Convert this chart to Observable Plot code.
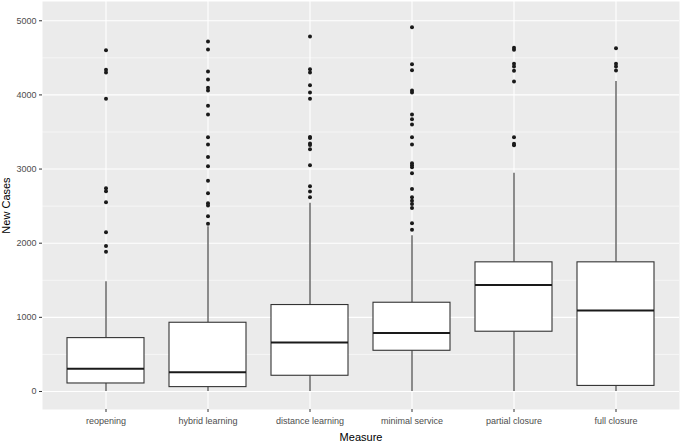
<!DOCTYPE html>
<html>
<head>
<meta charset="utf-8">
<script src="https://cdn.jsdelivr.net/npm/d3@7"></script>
<script src="https://cdn.jsdelivr.net/npm/@observablehq/plot@0.6"></script>
<style>
  body { margin: 0; background: #fff; }
  svg { display: block; }
</style>
</head>
<body>
<div id="chart"></div>
<script>
const categories = ["reopening", "hybrid learning", "distance learning", "minimal service", "partial closure", "full closure"];
const whiskerLow  = [0, 0, 0, 0, 0, 0];
const q1          = [108, 59, 212, 549, 806, 75];
const median      = [306, 261, 662, 788, 1436, 1093];
const q3          = [720, 927, 1166, 1197, 1742, 1742];
const whiskerHigh = [1481, 2223, 2538, 2102, 2943, 4181];
const outliers = [
  [4603, 4338, 4302, 3947, 2741, 2700, 2551, 2147, 1963, 1886],
  [4721, 4613, 4316, 4208, 4096, 4059, 3853, 3735, 3429, 3330, 3164, 3038, 2844, 2673, 2538, 2507, 2363, 2264],
  [4788, 4347, 4302, 4131, 4032, 3947, 3434, 3420, 3344, 3326, 3267, 3051, 2767, 2696, 2619],
  [4914, 4414, 4333, 4059, 4032, 3735, 3672, 3600, 3429, 3330, 3078, 3051, 3024, 2943, 2732, 2619, 2574, 2529, 2476, 2268, 2183],
  [4635, 4608, 4420, 4383, 4325, 4181, 3429, 3340, 3321],
  [4630, 4420, 4383, 4329]
];
const yTicks = [0, 1000, 2000, 3000, 4000, 5000];
const yMinor = [500, 1500, 2500, 3500, 4500];

const boxes = categories.map((c, i) => ({
  measure: c, lo: whiskerLow[i], q1: q1[i], med: median[i], q3: q3[i], hi: whiskerHigh[i]
}));
const points = categories.flatMap((c, i) => outliers[i].map(v => ({measure: c, value: v})));

const ink = "#333333";
const chart = Plot.plot({
  width: 685,
  height: 441,
  marginLeft: 42,
  marginRight: 6,
  marginTop: 1,
  marginBottom: 32,
  style: {fontFamily: "'Liberation Sans', Arial, sans-serif", background: "#fff"},
  x: {type: "band", domain: categories, paddingInner: 0.25, paddingOuter: 0.225},
  y: {domain: [-243, 5260]},
  marks: [
    Plot.frame({fill: "#EBEBEB", stroke: null}),
    Plot.gridY(yMinor, {stroke: "#fff", strokeOpacity: 1, strokeWidth: 0.55}),
    Plot.gridY(yTicks, {stroke: "#fff", strokeOpacity: 1, strokeWidth: 1.1}),
    Plot.gridX(categories, {stroke: "#fff", strokeOpacity: 1, strokeWidth: 1.1}),
    Plot.ruleX(boxes, {x: "measure", y1: "lo", y2: "q1", stroke: ink, strokeWidth: 1.1}),
    Plot.ruleX(boxes, {x: "measure", y1: "q3", y2: "hi", stroke: ink, strokeWidth: 1.1}),
    Plot.barY(boxes, {x: "measure", y1: "q1", y2: "q3", fill: "#fff", stroke: ink, strokeWidth: 1.1}),
    Plot.tickY(boxes, {x: "measure", y: "med", stroke: "#1a1a1a", strokeWidth: 2}),
    Plot.dot(points, {x: "measure", y: "value", r: 2, fill: "#1a1a1a", stroke: null}),
    Plot.axisY(yTicks, {tickSize: 3, text: null, color: ink, label: null}),
    Plot.axisY(yTicks, {tickSize: 0, tickPadding: 6, color: "#4d4d4d", fontSize: 9, label: "New Cases",
      tickFormat: d => String(d),
      labelAnchor: "center", labelArrow: "none", labelOffset: 40}),
    Plot.axisX({tickSize: 3, text: null, color: ink, label: null}),
    Plot.axisX({tickSize: 0, tickPadding: 8, color: "#4d4d4d", fontSize: 9, label: "Measure",
      labelAnchor: "center", labelArrow: "none", labelOffset: 31})
  ]
});
document.getElementById("chart").append(chart);
// axis title styling
chart.querySelectorAll("g[aria-label='y-axis label'] text, g[aria-label='x-axis label'] text").forEach(t => {
  t.setAttribute("fill", "#000");
  t.style.fontSize = "11px";
});
</script>
</body>
</html>
